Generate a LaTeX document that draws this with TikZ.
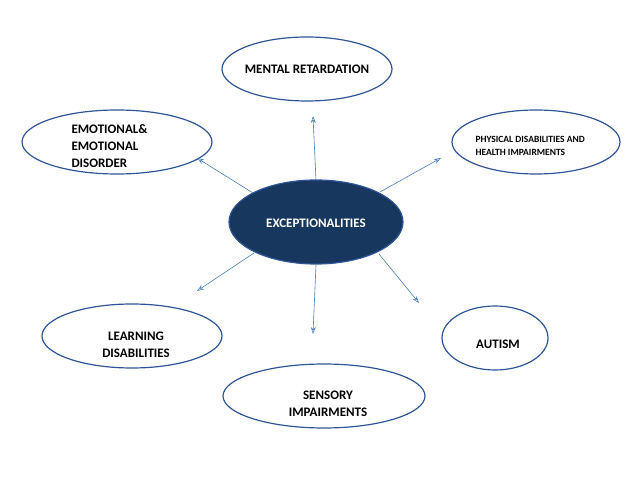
\documentclass[tikz,border=0pt]{standalone}
\usepackage{fontspec}
\setmainfont{Carlito}
\usetikzlibrary{shapes.geometric,arrows.meta}
\definecolor{edge}{HTML}{2F5597}
\definecolor{navy}{HTML}{17375E}
\definecolor{arr}{HTML}{4A7EBB}
\begin{document}
\begin{tikzpicture}[x=1pt,y=-1pt,
  bub/.style={ellipse,draw=edge,line width=1.2pt,fill=white,inner sep=0pt},
  lbl/.style={font=\bfseries\fontsize{13}{17}\selectfont,align=center},
  con/.style={draw=arr,line width=0.6pt,-{Stealth[length=7pt,width=5pt,open]}}]
\useasboundingbox (0,0) rectangle (638,478);
\node[bub,fill=navy,minimum width=174pt,minimum height=84pt] (c) at (316,222) {};
\node[lbl,text=white] (ct) at (316,223) {EXCEPTIONALITIES};
\node[bub,minimum width=170pt,minimum height=64pt] (mr) at (307,69) {};
\node[lbl] (mrt) at (307,69) {MENTAL RETARDATION};
\node[bub,minimum width=190pt,minimum height=64pt] (em) at (117,142) {};
\node[lbl,align=left,anchor=west] (emt) at (68,146) {EMOTIONAL\&\\EMOTIONAL\\DISORDER};
\node[bub,minimum width=168pt,minimum height=64pt] (ph) at (536,142) {};
\node[font=\bfseries\fontsize{9.5}{12.5}\selectfont,align=left,anchor=west] (pht) at (472,146) {PHYSICAL DISABILITIES AND\\HEALTH IMPAIRMENTS};
\node[bub,minimum width=180pt,minimum height=64pt] (ld) at (132,336) {};
\node[lbl] (ldt) at (136,345) {LEARNING\\DISABILITIES};
\node[bub,minimum width=106pt,minimum height=64pt] (au) at (495,338) {};
\node[lbl] (aut) at (498,344) {AUTISM};
\node[bub,minimum width=202pt,minimum height=64pt] (se) at (324,396) {};
\node[lbl] (set) at (328,404) {SENSORY\\IMPAIRMENTS};
\coordinate (a1) at (316,180); \coordinate (b1) at (313,116);
\coordinate (a2) at (253,193); \coordinate (b2) at (197,158);
\coordinate (a3) at (380,192); \coordinate (b3) at (441,158);
\coordinate (a4) at (254,253); \coordinate (b4) at (197,291);
\coordinate (a5) at (316,265); \coordinate (b5) at (313,334);
\coordinate (a6) at (379,254); \coordinate (b6) at (419,303);
\foreach \i in {1,...,6} \draw[con] (a\i) -- (b\i);
\end{tikzpicture}
\end{document}
